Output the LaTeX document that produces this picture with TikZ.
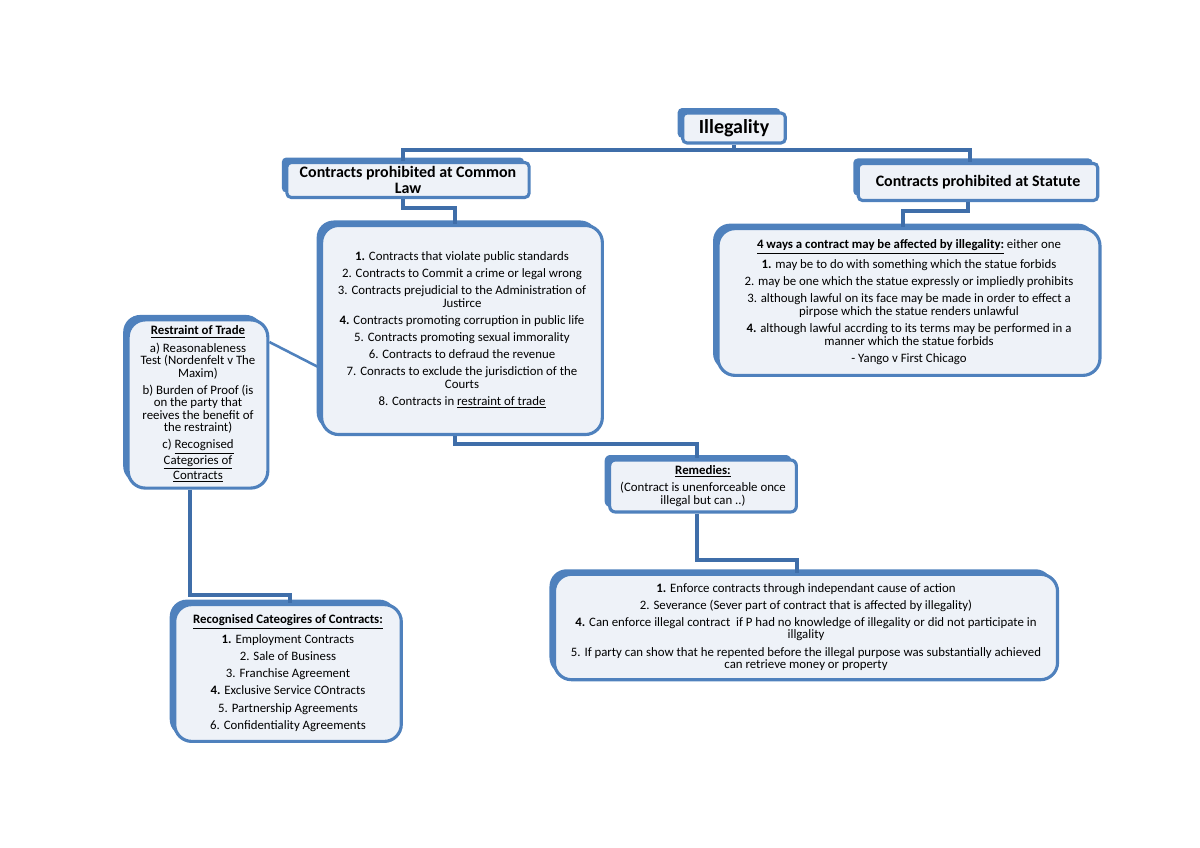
\documentclass[tikz,border=0pt]{standalone}
\usepackage{fontspec}
\setmainfont{Carlito}
\usetikzlibrary{shadows}
\definecolor{boxblue}{HTML}{4F81BD}
\definecolor{linkblue}{HTML}{3F6EA9}
\definecolor{boxfill}{HTML}{EEF2F8}
\begin{document}
\begin{tikzpicture}[x=0.7017pt,y=-0.7017pt,
  box/.style={draw=boxblue, line width=2.2pt, fill=boxfill, rounded corners=12pt, align=center, inner sep=2pt,
    general shadow={fill=boxblue, shadow xshift=-3.5pt, shadow yshift=3.5pt},
    font=\fontsize{9}{8.8}\selectfont},
  headbox/.style={box, rounded corners=3pt, font=\bfseries\fontsize{11.2}{11.5}\selectfont},
  conn/.style={draw=linkblue, line width=2.2pt}]
\useasboundingbox (0,0) rectangle (1200,848);
% headers
\node[headbox, minimum width=72pt, minimum height=21pt, font=\bfseries\fontsize{14}{15}\selectfont] (ill) at (734,128) {Illegality};
\node[headbox, minimum width=170pt, minimum height=24.5pt] (cl) at (408,180) {Contracts prohibited at Common\\Law};
\node[headbox, minimum width=168pt, minimum height=26pt] (st) at (978,182) {Contracts prohibited at Statute};
% common law
\node[box, minimum width=197pt, minimum height=146.7pt] (cllist) at (462,330) {%
\textbf{1.} Contracts that violate public standards\\[3.2pt]
2. Contracts to Commit a crime or legal wrong\\[3.2pt]
3. Contracts prejudicial to the Administration of\\Justirce\\[3.2pt]
\textbf{4.} Contracts promoting corruption in public life\\[3.2pt]
5. Contracts promoting sexual immorality\\[3.2pt]
6. Contracts to defraud the revenue\\[3.2pt]
7. Conracts to exclude the jurisdiction of the\\Courts\\[3.2pt]
8. Contracts in \underline{restraint of trade}};
% statute
\node[box, minimum width=268pt, minimum height=103pt] (stlist) at (909,302) {%
\textbf{\underline{4 ways a contract may be affected by illegality:}} either one\\[3.2pt]
\textbf{1.} may be to do with something which the statue forbids\\[3.2pt]
2. may be one which the statue expressly or impliedly prohibits\\[3.2pt]
3. although lawful on its face may be made in order to effect a\\pirpose which the statue renders unlawful\\[3.2pt]
\textbf{4.} although lawful accrding to its terms may be performed in a\\manner which the statue forbids\\[3.2pt]
- Yango v First Chicago};
% restraint of trade
\node[box, minimum width=98pt, minimum height=118pt] (rt) at (198,404) {%
\textbf{\underline{Restraint of Trade}}\\[3.2pt]
a) Reasonableness\\Test (Nordenfelt v The\\Maxim)\\[3.2pt]
b) Burden of Proof (is\\on the party that\\reeives the benefit of\\the restraint)\\[3.2pt]
c) \underline{Recognised}\\\underline{Categories of}\\\underline{Contracts}};
\node[box, minimum width=159pt, minimum height=96pt] (rc) at (288,673) {%
\textbf{\underline{Recognised Cateogires of Contracts:}}\\[3.2pt]
\textbf{1.} Employment Contracts\\[3.2pt]
2. Sale of Business\\[3.2pt]
3. Franchise Agreement\\[3.2pt]
\textbf{4.} Exclusive Service COntracts\\[3.2pt]
5. Partnership Agreements\\[3.2pt]
6. Confidentiality Agreements};
% remedies
\node[box, rounded corners=4pt, minimum width=131pt, minimum height=36.5pt] (rem) at (703,486) {%
\textbf{\underline{Remedies:}}\\[3.2pt]
(Contract is unenforceable once\\illegal but can ..)};
\node[box, minimum width=353pt, minimum height=74pt] (remlist) at (806,627) {%
\textbf{1.} Enforce contracts through independant cause of action\\[3.2pt]
2. Severance (Sever part of contract that is affected by illegality)\\[3.2pt]
\textbf{4.} Can enforce illegal contract\ \ if P had no knowledge of illegality or did not participate in\\illgality\\[3.2pt]
5. If party can show that he repented before the illegal purpose was substantially achieved\\can retrieve money or property};
% bends
\coordinate (j1) at (403,150);
\coordinate (j2) at (970,150);
\coordinate (cl1) at (403,208);
\coordinate (cl2) at (455,208);
\coordinate (st1) at (968,211);
\coordinate (st2) at (903,211);
\coordinate (cr1) at (455,444);
\coordinate (cr2) at (697,444);
\coordinate (rr1) at (697,560);
\coordinate (rr2) at (797,560);
\coordinate (rc1) at (190,595);
\coordinate (rc2) at (290,595);
% connectors
\draw[conn] (ill.south) -- (ill.south |- j1);
\draw[conn] (j1 |- cl.north) -- (j1) -- (j2) -- (j2 |- st.north);
\draw[conn] (cl.south -| cl1) -- (cl1) -- (cl2) -- (cl2 |- cllist.north);
\draw[conn] (st.south -| st1) -- (st1) -- (st2) -- (st2 |- stlist.north);
\draw[conn] (cllist.south -| cr1) -- (cr1) -- (cr2) -- (cr2 |- rem.north);
\draw[conn] (rem.south -| rr1) -- (rr1) -- (rr2) -- (rr2 |- remlist.north);
\draw[conn] (rt.south -| rc1) -- (rc1) -- (rc2) -- (rc2 |- rc.north);
\draw[conn, draw=boxblue, line width=1.8pt] (rt.east |- 0,342) -- (cllist.west |- 0,368);
\end{tikzpicture}
\end{document}
